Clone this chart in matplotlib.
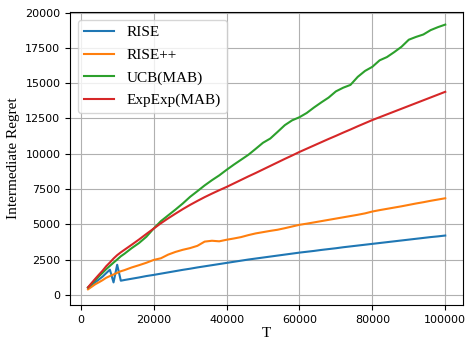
import matplotlib

matplotlib.use("Agg")
import matplotlib.pyplot as plt

# horizon values (dense at the start, then every 2000)
T = [2000, 3000, 4000, 5000, 6000, 7000, 8000, 9000, 10000, 11000, 12000,
     14000, 16000, 18000, 20000, 22000, 24000, 26000, 28000, 30000, 32000,
     34000, 36000, 38000, 40000, 42000, 44000, 46000, 48000, 50000, 52000,
     54000, 56000, 58000, 60000, 62000, 64000, 66000, 68000, 70000, 72000,
     74000, 76000, 78000, 80000, 82000, 84000, 86000, 88000, 90000, 92000,
     94000, 96000, 98000, 100000]

rise = [500, 700, 900, 1100, 1300, 1550, 1790, 890, 2140, 1010, 1060,
        1150, 1240, 1340, 1420, 1510, 1600, 1690, 1780, 1860, 1950,
        2030, 2110, 2190, 2270, 2350, 2430, 2510, 2580, 2650, 2720,
        2790, 2860, 2930, 3000, 3060, 3120, 3190, 3250, 3310, 3380,
        3440, 3500, 3560, 3620, 3680, 3740, 3800, 3860, 3920, 3980,
        4040, 4100, 4150, 4210]

rise_pp = [400, 580, 760, 900, 1050, 1220, 1340, 1450, 1570, 1680, 1760,
           1950, 2110, 2280, 2480, 2600, 2860, 3050, 3200, 3320, 3480,
           3780, 3840, 3800, 3910, 4000, 4100, 4240, 4360, 4450, 4540,
           4620, 4730, 4850, 4970, 5050, 5140, 5230, 5320, 5410, 5500,
           5590, 5680, 5780, 5910, 6010, 6100, 6190, 6280, 6380, 6480,
           6570, 6670, 6760, 6850]

ucb = [540, 790, 1060, 1320, 1570, 1830, 2060, 2290, 2510, 2740, 2920,
       3320, 3680, 4120, 4700, 5230, 5640, 6050, 6480, 6950, 7350,
       7760, 8130, 8470, 8860, 9230, 9580, 9930, 10350, 10780, 11080,
       11550, 12030, 12370, 12590, 12890, 13280, 13640, 13980, 14420, 14680,
       14880, 15450, 15870, 16160, 16620, 16850, 17200, 17580, 18080, 18280,
       18450, 18760, 18970, 19150]

expexp = [540, 850, 1150, 1440, 1720, 2040, 2300, 2580, 2820, 3020, 3200,
          3560, 3930, 4320, 4700, 5080, 5430, 5760, 6080, 6380, 6660,
          6930, 7180, 7420, 7650, 7900, 8150, 8400, 8640, 8890, 9140,
          9390, 9640, 9880, 10130, 10360, 10590, 10820, 11050, 11270, 11500,
          11720, 11950, 12170, 12390, 12590, 12790, 12990, 13190, 13390, 13590,
          13790, 13990, 14190, 14390]

serif = "Liberation Serif"

fig = plt.figure(figsize=(4.74, 3.5), dpi=100)
ax = fig.add_axes([0.148, 0.129, 0.829, 0.837])

ax.plot(T, rise, color="#1f77b4", linewidth=1.5, label="RISE")
ax.plot(T, rise_pp, color="#ff7f0e", linewidth=1.5, label="RISE++")
ax.plot(T, ucb, color="#2ca02c", linewidth=1.5, label="UCB(MAB)")
ax.plot(T, expexp, color="#d62728", linewidth=1.5, label="ExpExp(MAB)")

ax.set_ylim(-700, 20050)
ax.set_yticks([0, 2500, 5000, 7500, 10000, 12500, 15000, 17500, 20000])
ax.set_xticks([0, 20000, 40000, 60000, 80000, 100000])
ax.tick_params(labelsize=8)
ax.grid(True, color="#b0b0b0", linewidth=0.8)

ax.set_xlabel("T", fontsize=11, family=serif, labelpad=2)
ax.set_ylabel("Intermediate Regret", fontsize=11, family=serif)
ax.legend(loc="upper left", prop={"family": serif, "size": 11}, labelspacing=0.58)

fig.savefig("out.png", dpi=100)
